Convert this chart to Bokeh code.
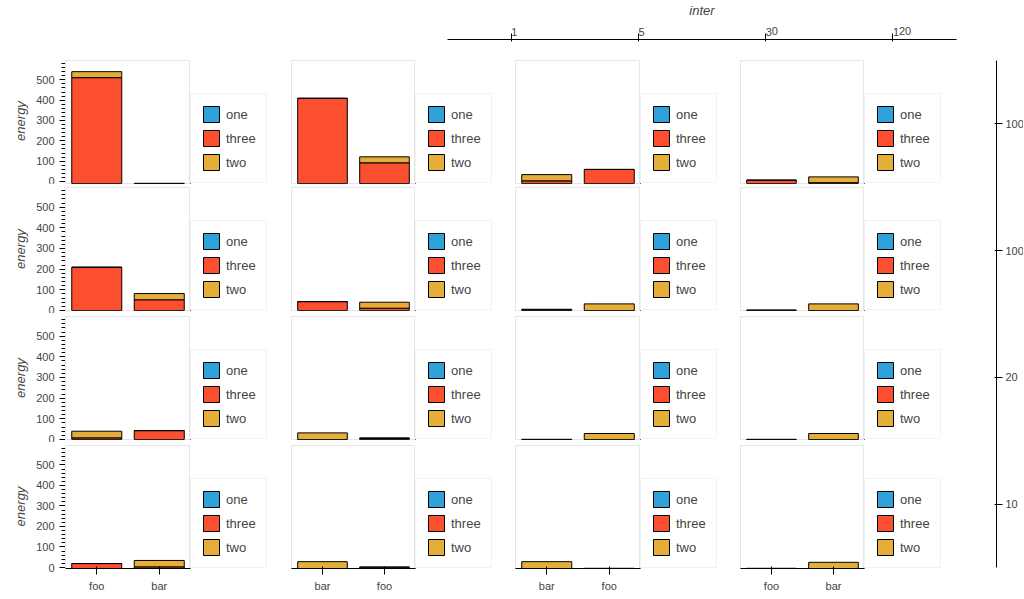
from bokeh.plotting import figure
from bokeh.models import (Legend, LegendItem, Range1d, FactorRange,
                          ColumnDataSource, GridBox)
from bokeh.embed import file_html
from bokeh.resources import INLINE

# ---- data -------------------------------------------------------------
INTER = ["1", "5", "30", "120"]            # top axis (columns)
ROW_KEYS = ["1000", "100", "20", "10"]     # right axis, top -> bottom
COL_CATS = [["foo", "bar"], ["bar", "foo"], ["bar", "foo"], ["foo", "bar"]]
SERIES = ["one", "three", "two"]
COLORS = ["#30a2da", "#fc4f30", "#e5ae38"]

# values[row][col] = [value for first category, value for second category]
ONE = [
    [[0, 0], [0, 0], [0, 0], [0, 0]],
    [[0, 0], [0, 0], [0, 0], [0, 0]],
    [[0, 0], [0, 0], [0, 0], [0, 0]],
    [[0, 0], [0, 0], [0, 0], [0, 0]],
]
THREE = [
    [[512, 0], [412, 100], [13, 68], [16, 4]],
    [[209, 52], [43, 11], [3, 0], [1, 0]],
    [[8, 43], [0, 5], [0, 0], [0, 0]],
    [[24, 8], [0, 4], [0, 0], [0, 0]],
]
TWO = [
    [[29, 1], [0, 29], [30, 0], [0, 28]],
    [[0, 30], [0, 29], [3, 32], [1, 32]],
    [[32, 0], [32, 3], [1, 29], [1, 29]],
    [[0, 31], [33, 4], [33, 1], [1, 30]],
]

# ---- layout constants ---------------------------------------------------
FRAME_W = [125, 124, 125, 124]
YAX_W = 65
LEG_W = [101, 100, 100, 100]
FRAME_H = 123
TOP_B = 3
BOT_B = [3, 3, 3, 28]
TXT = "#444444"

totals = [ONE[r][c][k] + THREE[r][c][k] + TWO[r][c][k]
          for r in range(4) for c in range(4) for k in range(2)]
YMAX = round(max(totals) * 1.1)

children = []
NCOLS = 11

# ---- top "inter" axis ---------------------------------------------------
top = figure(x_range=FactorRange(*INTER), y_range=Range1d(0, 1),
             frame_width=509, frame_height=16,
             min_border_left=447, min_border_right=67,
             min_border_top=39, min_border_bottom=0,
             x_axis_location="above", y_axis_location=None,
             output_backend="svg", toolbar_location=None,
             outline_line_color=None)
top.grid.visible = False
top.xaxis.axis_label = "inter"
top.xaxis.axis_label_standoff = 2
top.xaxis.major_label_standoff = 2
top.xaxis.major_label_orientation = 0.000001
children.append((top, 0, 0, 1, NCOLS))

# ---- grid of cells ------------------------------------------------------
for r in range(4):
    for c in range(4):
        cats = COL_CATS[c]
        bottom = (r == 3)
        base_col = 1 + 2 * c

        if c == 0:
            # y axis ("energy") for the left column, in its own strip
            ya = figure(x_range=Range1d(0, 1), y_range=Range1d(0, YMAX),
                        width=YAX_W, height=TOP_B + FRAME_H + BOT_B[r],
                        min_border_left=60, min_border_right=0,
                        min_border_top=TOP_B, min_border_bottom=BOT_B[r],
                        x_axis_location=None, y_axis_location="left",
                        output_backend="svg", toolbar_location=None,
                        outline_line_color=None)
            ya.grid.visible = False
            ya.yaxis.axis_label = "energy"
            children.append((ya, r + 1, 0))

        p = figure(x_range=FactorRange(*cats), y_range=Range1d(0, YMAX),
                   frame_width=FRAME_W[c], frame_height=FRAME_H,
                   min_border_left=0, min_border_right=0,
                   min_border_top=TOP_B, min_border_bottom=BOT_B[r],
                   x_axis_location="below" if bottom else None,
                   y_axis_location=None,
                   output_backend="svg", toolbar_location=None)
        p.grid.visible = False
        src = ColumnDataSource(dict(cat=cats, one=ONE[r][c],
                                    three=THREE[r][c], two=TWO[r][c]))
        p.vbar_stack(SERIES, x="cat", width=0.8, fill_color=COLORS,
                     line_color="black", source=src)
        children.append((p, r + 1, base_col))

        # legend panel to the right of each plot (proxy glyphs lie off-frame)
        lg = figure(x_range=Range1d(0, 1), y_range=Range1d(0, 1),
                    frame_width=LEG_W[c], frame_height=FRAME_H,
                    min_border_left=0, min_border_right=0,
                    min_border_top=TOP_B, min_border_bottom=BOT_B[r],
                    x_axis_location=None, y_axis_location=None,
                    output_backend="svg", toolbar_location=None,
                    outline_line_color=None)
        lg.grid.visible = False
        items = []
        for s, col in zip(SERIES, COLORS):
            rr = lg.vbar(x=[-5], top=[-5], bottom=[-6], width=0.8,
                         fill_color=col, line_color="black")
            items.append(LegendItem(label=s, renderers=[rr]))
        lg.add_layout(Legend(items=items, location="bottom_left", margin=0,
                             spacing=4))
        children.append((lg, r + 1, base_col + 1))

# ---- right axis ---------------------------------------------------------
RF_H = 507
rf = figure(x_range=Range1d(0, 32), y_range=FactorRange(*ROW_KEYS[::-1]),
            frame_width=32, frame_height=RF_H,
            min_border_left=0, min_border_right=7,
            min_border_top=5, min_border_bottom=29,
            x_axis_location=None, y_axis_location="right",
            output_backend="svg", toolbar_location=None,
            outline_line_color=None)
rf.grid.visible = False
rf.yaxis.major_label_text_font_size = "0px"
rf.yaxis.major_label_standoff = 0
children.append((rf, 1, 9, 4, 1))

rl = figure(x_range=Range1d(0, 20), y_range=FactorRange(*ROW_KEYS[::-1]),
            frame_width=20, frame_height=RF_H,
            min_border_left=0, min_border_right=0,
            min_border_top=5, min_border_bottom=29,
            x_axis_location=None, y_axis_location=None,
            output_backend="svg", toolbar_location=None,
            outline_line_color=None)
rl.grid.visible = False
rl.text(x=2, y=ROW_KEYS, text=ROW_KEYS, text_align="left",
        text_baseline="middle", text_font_size="11px", text_color=TXT)
children.append((rl, 1, 10, 4, 1))

page = GridBox(children=children, spacing=0)

open("out.html", "w").write(file_html(page, INLINE))
